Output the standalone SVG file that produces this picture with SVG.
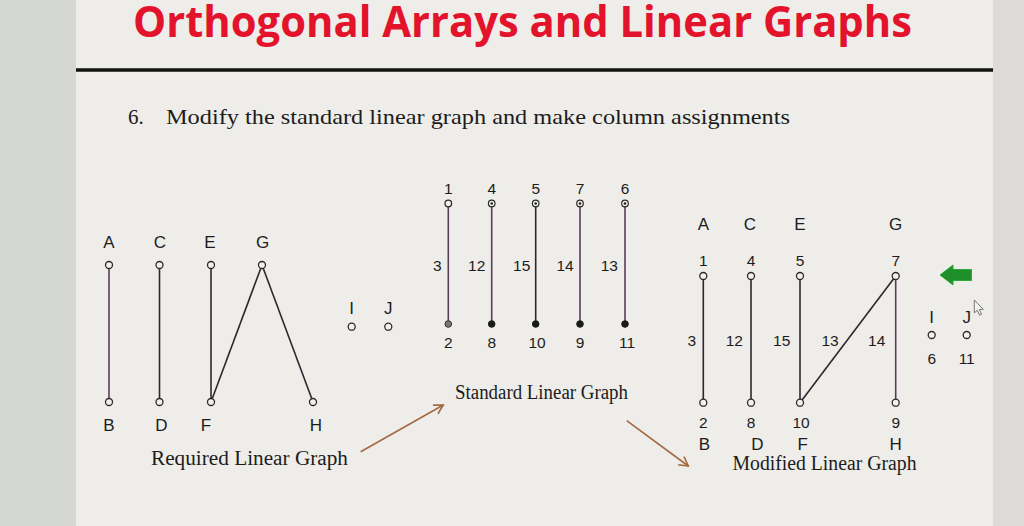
<svg xmlns="http://www.w3.org/2000/svg" width="1024" height="526" viewBox="0 0 1024 526">
<defs>
<style>
.lbl{font-family:"Liberation Sans",Arial,sans-serif;font-size:17px;fill:#1c1c1c;text-anchor:middle}
.num{font-family:"Liberation Sans",Arial,sans-serif;font-size:15.5px;fill:#1c1c1c;text-anchor:middle}
.cap{font-family:"Liberation Serif","Times New Roman",serif;font-size:20.5px;fill:#1c1c1c}
.ln{stroke:#2e2630;stroke-width:1.6;fill:none}
.lp{stroke:#5a3c5c;stroke-width:1.6;fill:none}
.oc{fill:#f2f1ec;stroke:#2a2a2a;stroke-width:1.3}
.fc{fill:#1a1a1a;stroke:#1a1a1a;stroke-width:1}
.gc{fill:#777;stroke:#333;stroke-width:1}
.dc{fill:#f2f1ec;stroke:#2a2a2a;stroke-width:1.2}
.br{stroke:#a46a45;stroke-width:1.6;fill:none}
</style>
<marker id="ah" markerWidth="12" markerHeight="12" refX="10" refY="6" orient="auto" markerUnits="userSpaceOnUse">
<path d="M1,1 L10,6 L1,11" fill="none" stroke="#a46a45" stroke-width="1.6"/>
</marker>
</defs>
<rect x="0" y="0" width="1024" height="526" fill="#eeede9"/>
<rect x="0" y="0" width="76" height="526" fill="#d5d7d3"/>
<rect x="993" y="0" width="31" height="526" fill="#dcdbd8"/>
<line x1="76" y1="70" x2="993" y2="70" stroke="#111" stroke-width="3.5"/>
<text x="133" y="37" font-family="'Open Sans',sans-serif" font-weight="700" font-size="43" fill="#e3132c" textLength="779" lengthAdjust="spacingAndGlyphs">Orthogonal Arrays and Linear Graphs</text>
<text x="128" y="124" font-family="'Liberation Serif','Times New Roman',serif" font-size="21" fill="#1c1c1c">6.</text>
<text x="166" y="124" font-family="'Liberation Serif','Times New Roman',serif" font-size="21" fill="#1c1c1c" textLength="624" lengthAdjust="spacingAndGlyphs">Modify the standard linear graph and make column assignments</text>

<g id="connectors">
<line class="lp" x1="109" y1="265" x2="109" y2="402"/>
<line class="ln" x1="159.5" y1="265" x2="159.5" y2="402"/>
<line class="ln" x1="211" y1="265" x2="211" y2="402"/>
<line class="ln" x1="262" y1="265" x2="211" y2="402"/>
<line class="ln" x1="262" y1="265" x2="313" y2="402"/>
<line class="lp" x1="448.3" y1="203.5" x2="448.3" y2="324"/>
<line class="lp" x1="491.7" y1="203.5" x2="491.7" y2="324"/>
<line class="ln" x1="535.7" y1="203.5" x2="535.7" y2="324"/>
<line class="lp" x1="580" y1="203.5" x2="580" y2="324"/>
<line class="lp" x1="625" y1="203.5" x2="625" y2="324"/>
<line class="ln" x1="703.3" y1="276" x2="703.3" y2="402.7"/>
<line class="ln" x1="751" y1="276" x2="751" y2="402.7"/>
<line class="ln" x1="800" y1="276" x2="800" y2="402.7"/>
<line class="lp" x1="895.7" y1="276" x2="895.7" y2="402.7"/>
<line class="ln" x1="895.7" y1="276" x2="800" y2="402.7"/>
<line class="br" x1="360.7" y1="451.7" x2="443.3" y2="405" marker-end="url(#ah)"/>
<line class="br" x1="626.7" y1="420.7" x2="688.3" y2="466" marker-end="url(#ah)"/>
</g>

<g id="req-A"><circle class="oc" cx="109" cy="265" r="3.5"/><text class="lbl" x="109" y="248">A</text></g>
<g id="req-C"><circle class="oc" cx="159.5" cy="265" r="3.5"/><text class="lbl" x="160" y="248">C</text></g>
<g id="req-E"><circle class="oc" cx="211" cy="265" r="3.5"/><text class="lbl" x="210" y="248">E</text></g>
<g id="req-G"><circle class="oc" cx="262" cy="265" r="3.5"/><text class="lbl" x="262.5" y="248">G</text></g>
<g id="req-B"><circle class="oc" cx="109" cy="402" r="3.5"/><text class="lbl" x="109" y="431">B</text></g>
<g id="req-D"><circle class="oc" cx="159.5" cy="402" r="3.5"/><text class="lbl" x="161.5" y="431">D</text></g>
<g id="req-F"><circle class="oc" cx="211" cy="402" r="3.5"/><text class="lbl" x="206" y="431">F</text></g>
<g id="req-H"><circle class="oc" cx="313" cy="402" r="3.5"/><text class="lbl" x="316" y="431">H</text></g>
<g id="req-I"><circle class="oc" cx="351.7" cy="326.7" r="3.5"/><text class="lbl" x="351.7" y="314">I</text></g>
<g id="req-J"><circle class="oc" cx="388.3" cy="326.7" r="3.5"/><text class="lbl" x="388.3" y="314">J</text></g>
<text class="cap" x="151" y="465" textLength="197" lengthAdjust="spacingAndGlyphs">Required Linear Graph</text>

<g id="std-1"><circle class="oc" cx="448.3" cy="203.5" r="3.3"/><text class="num" x="448.3" y="194">1</text></g>
<g id="std-4"><circle class="dc" cx="491.7" cy="203.5" r="3.3"/><circle cx="491.7" cy="203.5" r="1.3" fill="#222"/><text class="num" x="491.7" y="194">4</text></g>
<g id="std-5"><circle class="dc" cx="535.7" cy="203.5" r="3.3"/><circle cx="535.7" cy="203.5" r="1.3" fill="#222"/><text class="num" x="535.7" y="194">5</text></g>
<g id="std-7"><circle class="dc" cx="580" cy="203.5" r="3.3"/><circle cx="580" cy="203.5" r="1.3" fill="#222"/><text class="num" x="580" y="194">7</text></g>
<g id="std-6"><circle class="dc" cx="625" cy="203.5" r="3.3"/><circle cx="625" cy="203.5" r="1.3" fill="#222"/><text class="num" x="625" y="194">6</text></g>
<g id="std-2"><circle class="gc" cx="448.3" cy="324" r="3.3"/><text class="num" x="448.3" y="347.5">2</text></g>
<g id="std-8"><circle class="fc" cx="491.7" cy="324" r="3.3"/><text class="num" x="491.7" y="347.5">8</text></g>
<g id="std-10"><circle class="fc" cx="535.7" cy="324" r="3.3"/><text class="num" x="537" y="347.5">10</text></g>
<g id="std-9"><circle class="fc" cx="580" cy="324" r="3.3"/><text class="num" x="580" y="347.5">9</text></g>
<g id="std-11"><circle class="fc" cx="625" cy="324" r="3.3"/><text class="num" x="627" y="347.5">11</text></g>
<g id="std-edge-labels">
<text class="num" x="437.3" y="271">3</text>
<text class="num" x="476.7" y="271">12</text>
<text class="num" x="521.7" y="271">15</text>
<text class="num" x="565" y="271">14</text>
<text class="num" x="609.3" y="271">13</text>
</g>
<text class="cap" x="455" y="399" font-size="19" textLength="173" lengthAdjust="spacingAndGlyphs">Standard Linear Graph</text>

<g id="mod-A"><circle class="oc" cx="703.3" cy="276" r="3.5"/><text class="lbl" x="703.3" y="229.5">A</text><text class="num" x="703.3" y="265.5">1</text></g>
<g id="mod-C"><circle class="oc" cx="751" cy="276" r="3.5"/><text class="lbl" x="750" y="229.5">C</text><text class="num" x="751" y="265.5">4</text></g>
<g id="mod-E"><circle class="oc" cx="800" cy="276" r="3.5"/><text class="lbl" x="800" y="229.5">E</text><text class="num" x="800" y="265.5">5</text></g>
<g id="mod-G"><circle class="oc" cx="895.7" cy="276" r="3.5"/><text class="lbl" x="895.7" y="229.5">G</text><text class="num" x="895.7" y="265.5">7</text></g>
<g id="mod-B"><circle class="oc" cx="703.3" cy="402.7" r="3.5"/><text class="num" x="703.3" y="428">2</text><text class="lbl" x="704.3" y="449.5">B</text></g>
<g id="mod-D"><circle class="oc" cx="751" cy="402.7" r="3.5"/><text class="num" x="751" y="428">8</text><text class="lbl" x="757.3" y="449.5">D</text></g>
<g id="mod-F"><circle class="oc" cx="800" cy="402.7" r="3.5"/><text class="num" x="801" y="428">10</text><text class="lbl" x="802.7" y="449.5">F</text></g>
<g id="mod-H"><circle class="oc" cx="895.7" cy="402.7" r="3.5"/><text class="num" x="895.7" y="428">9</text><text class="lbl" x="895.7" y="449.5">H</text></g>
<g id="mod-I"><circle class="oc" cx="931.7" cy="335" r="3.5"/><text class="lbl" x="931.7" y="322.7">I</text><text class="num" x="931.7" y="364.3">6</text></g>
<g id="mod-J"><circle class="oc" cx="966.7" cy="335" r="3.5"/><text class="lbl" x="966.7" y="322.7">J</text><text class="num" x="966.7" y="364.3">11</text></g>
<g id="mod-edge-labels">
<text class="num" x="691.7" y="346">3</text>
<text class="num" x="734.3" y="346">12</text>
<text class="num" x="781.7" y="346">15</text>
<text class="num" x="830" y="346">13</text>
<text class="num" x="876.7" y="346">14</text>
</g>
<text class="cap" x="732.5" y="470" textLength="184" lengthAdjust="spacingAndGlyphs">Modified Linear Graph</text>

<path d="M940,275 L953,265 L953,269.5 L971.5,269.5 L971.5,280.5 L953,280.5 L953,285 Z" fill="#1f8f2a" stroke="#2aa838" stroke-width="1"/>
<path d="M974.3,300 L974.3,313 L977.3,310.3 L979.6,315.3 L981.6,314.4 L979.3,309.5 L983.3,309.3 Z" fill="#f4f4f4" stroke="#777" stroke-width="1"/>
</svg>
